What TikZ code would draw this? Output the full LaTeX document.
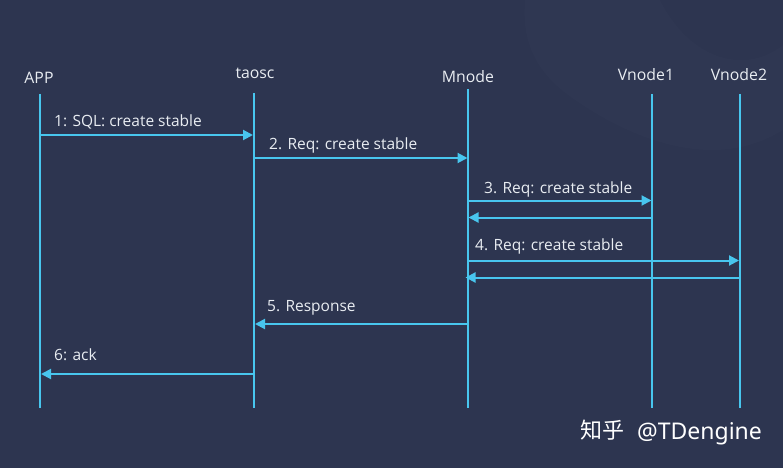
\documentclass[tikz,border=0pt]{standalone}
\usepackage{fontspec}
\setmainfont{Open Sans}
\newfontfamily\cjk{Noto Sans CJK SC}
\newfontfamily\wm{Noto Sans}
\usetikzlibrary{arrows.meta}
\definecolor{bg}{HTML}{2D3550}
\definecolor{wave}{HTML}{2F3752}
\definecolor{lin}{HTML}{48C6EE}
\definecolor{txt}{HTML}{E9EDF2}
\tikzset{
  life/.style={draw=lin,line width=2pt},
  msg/.style={draw=lin,line width=2pt,-{Triangle[length=10pt,width=10pt]},shorten >=0.5pt},
  actor/.style={text=txt,font=\fontsize{15.8}{18}\selectfont,inner sep=0pt,anchor=base},
  lab/.style={text=txt,font=\fontsize{15.5}{19}\selectfont,inner sep=0pt,anchor=base west}
}
\begin{document}
\begin{tikzpicture}[x=1pt,y=-1pt]
\useasboundingbox (0,0) rectangle (783,468);
\fill[bg] (0,0) rectangle (783,468);
% faint watermark
\fill[wave] (525,0) .. controls (522,35) and (530,70) .. (575,100) .. controls (640,145) and (720,170) .. (783,130) -- (783,45) .. controls (745,75) and (690,60) .. (660,0) -- cycle;
% headers
\node[actor] (app) at (39,84) {APP};
\node[actor] (taosc) at (255,79) {taosc};
\node[actor] (mnode) at (468,83) {Mnode};
\node[actor] (vn1) at (646,81) {Vnode1};
\node[actor] (vn2) at (739,81) {Vnode2};
% lifeline ends
\coordinate (appT) at (39.5,94); \coordinate (appB) at (39.5,408);
\coordinate (taT) at (253.5,93); \coordinate (taB) at (253.5,408);
\coordinate (mnT) at (468,89); \coordinate (mnB) at (468,408);
\coordinate (v1T) at (652,94); \coordinate (v1B) at (652,408);
\coordinate (v2T) at (739.5,94); \coordinate (v2B) at (739.5,408);
\draw[life] (appT) -- (appB);
\draw[life] (taT) -- (taB);
\draw[life] (mnT) -- (mnB);
\draw[life] (v1T) -- (v1B);
\draw[life] (v2T) -- (v2B);
% messages
\draw[msg] (appT |- 0,135) -- (taT |- 0,135);
\draw[msg] (taT |- 0,158) -- (mnT |- 0,158);
\draw[msg] (mnT |- 0,200.5) -- (v1T |- 0,200.5);
\draw[msg] (v1T |- 0,217.5) -- (mnT |- 0,217.5);
\draw[msg] (mnT |- 0,260.5) -- (v2T |- 0,260.5);
\draw[msg] (v2T |- 0,277.5) -- ([xshift=-3pt]mnT |- 0,277.5);
\draw[msg] (mnT |- 0,324) -- ([xshift=1pt]taT |- 0,324);
\draw[msg] (taT |- 0,374) -- ([xshift=1pt]appT |- 0,374);
% labels
\node[lab] (l1) at (54,126.5) {1: SQL: create stable};
\node[lab] (l2) at (269,149) {2. Req: create stable};
\node[lab] (l3) at (484,193) {3. Req: create stable};
\node[lab] (l4) at (475,250) {4. Req: create stable};
\node[lab] (l5) at (267,311) {5. Response};
\node[lab] (l6) at (54,360) {6: ack};
% signature
\node[text=white,inner sep=0pt,anchor=base west,font=\cjk\fontsize{22}{24}\selectfont] (zh) at (580,438) {知乎};
\node[text=white,inner sep=0pt,anchor=base west,font=\wm\fontsize{23}{24}\selectfont] (td) at (637,439) {@TDengine};
\end{tikzpicture}
\end{document}
